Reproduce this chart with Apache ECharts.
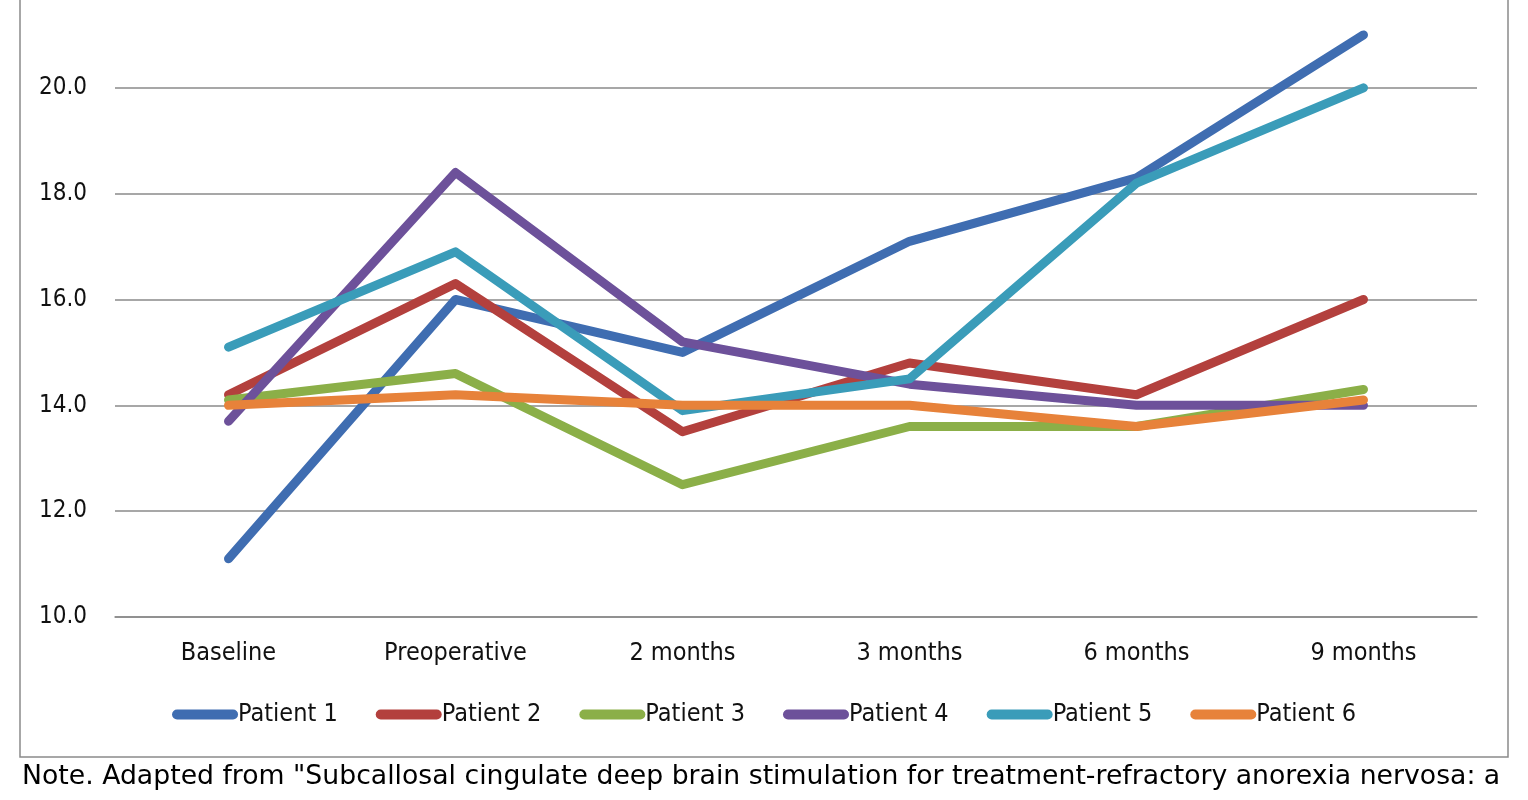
<!DOCTYPE html>
<html>
<head>
<meta charset="utf-8">
<script src="https://cdn.jsdelivr.net/npm/echarts@6/dist/echarts.min.js"></script>
<style>
html,body{margin:0;padding:0;background:#fff;overflow:hidden;}
#wrap{width:1528px;height:800px;overflow:hidden;position:relative;}
#c{width:1528px;height:818px;position:absolute;left:0;top:-18px;}
</style>
</head>
<body>
<div id="wrap"><div id="c"></div></div>
<script>
const categories = ['Baseline', 'Preoperative', '2 months', '3 months', '6 months', '9 months'];
const patient1 = [11.1, 16.0, 15.0, 17.1, 18.3, 21.0];
const patient2 = [14.2, 16.3, 13.5, 14.8, 14.2, 16.0];
const patient3 = [14.1, 14.6, 12.5, 13.6, 13.6, 14.3];
const patient4 = [13.7, 18.4, 15.2, 14.4, 14.0, 14.0];
const patient5 = [15.1, 16.9, 13.9, 14.5, 18.2, 20.0];
const patient6 = [14.0, 14.2, 14.0, 14.0, 13.6, 14.1];
const seriesNames = ['Patient 1', 'Patient 2', 'Patient 3', 'Patient 4', 'Patient 5', 'Patient 6'];
const noteText = 'Note. Adapted from "Subcallosal cingulate deep brain stimulation for treatment-refractory anorexia nervosa: a';

const colors = ['#3F6DB1', '#B3403D', '#8BAF48', '#6D519A', '#3A9CB9', '#E7823A'];
const dataSets = [patient1, patient2, patient3, patient4, patient5, patient6];
const FONT = '"DejaVu Sans Condensed", "Liberation Sans Narrow", sans-serif';

const chart = echarts.init(document.getElementById('c'), null, {renderer: 'canvas'});
chart.setOption({
  animation: false,
  color: colors,
  grid: {left: 115, right: 51, top: 0, bottom: 183, containLabel: false, outerBoundsMode: 'none'},
  xAxis: {
    type: 'category',
    data: categories,
    boundaryGap: true,
    axisLine: {show: true, lineStyle: {color: '#8a8a8a', width: 1.5}},
    axisTick: {show: false},
    axisLabel: {color: '#111', fontSize: 25, fontFamily: FONT, margin: 24}
  },
  yAxis: {
    type: 'value',
    min: 10, max: 22, interval: 2,
    axisLine: {show: false},
    axisTick: {show: false},
    splitLine: {lineStyle: {color: '#8a8a8a', width: 1.5}},
    axisLabel: {color: '#111', fontSize: 24, fontFamily: FONT, margin: 28,
      formatter: v => v.toFixed(1)}
  },
  legend: {
    data: seriesNames,
    top: 715,
    left: 'center',
    itemWidth: 66,
    itemHeight: 10,
    itemGap: 38,
    icon: 'path://M5,0 H61 A5,5 0 0 1 61,10 H5 A5,5 0 0 1 5,0 Z',
    textStyle: {color: '#111', fontSize: 25, fontFamily: FONT, padding: [0, 0, 0, -5]}
  },
  graphic: [
    {type: 'rect', shape: {x: 20, y: -2, width: 1488, height: 777},
     style: {fill: 'none', stroke: '#8a8a8a', lineWidth: 1.5}, silent: true},
    {type: 'text', left: 22, top: 782,
     style: {text: noteText, fontSize: 26.7, fontFamily: '"DejaVu Sans", sans-serif', fill: '#000'}}
  ],
  series: dataSets.map((d, i) => ({
    name: seriesNames[i],
    type: 'line',
    data: d,
    showSymbol: false,
    symbol: 'none',
    lineStyle: {width: 9, color: colors[i], cap: 'round', join: 'round'},
    itemStyle: {color: colors[i]}
  }))
});
</script>
</body>
</html>
